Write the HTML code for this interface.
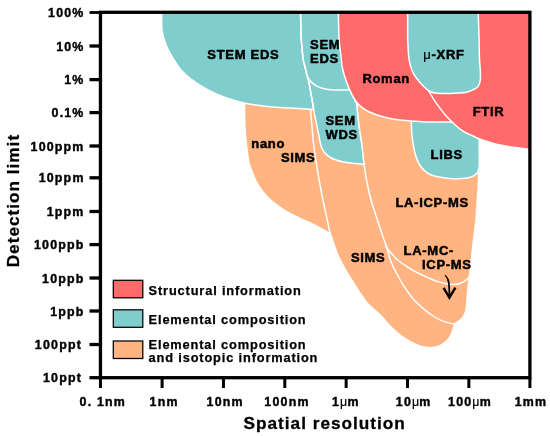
<!DOCTYPE html>
<html><head><meta charset="utf-8"><title>Detection limit vs spatial resolution</title>
<style>html,body{margin:0;padding:0;background:#fff;}svg{display:block}</style></head>
<body>
<svg width="550" height="436" viewBox="0 0 550 436">
<rect width="550" height="436" fill="#fff"/>
<g stroke="#fff" stroke-width="1.5" stroke-linejoin="round" fill="none">
<path fill="#ffb482" d="M244.5,103.6 C244.6,107.4 244.6,119.6 244.9,126.4 C245.2,133.2 245.7,138.4 246.4,144.5 C247.1,150.6 248.1,158.3 249.0,162.7 C249.9,167.1 250.6,167.7 251.8,170.9 C253.0,174.1 254.4,178.2 256.4,181.8 C258.4,185.4 260.9,189.4 263.6,192.7 C266.3,196.0 269.1,198.8 272.7,201.8 C276.3,204.8 280.9,208.1 285.5,210.9 C290.1,213.7 295.5,216.2 300.0,218.4 C304.5,220.6 309.1,222.3 312.7,224.1 C316.3,225.9 318.7,227.3 321.8,229.0 C324.9,230.7 329.9,233.6 331.5,234.5 L322.0,100.0 Z"/>
<path fill="#ffb482" d="M310.0,100.0 C310.1,101.5 310.4,105.7 310.6,109.0 C310.8,112.3 311.1,116.5 311.4,120.0 C311.7,123.5 312.0,126.7 312.3,130.0 C312.6,133.3 312.7,136.3 313.1,140.0 C313.5,143.7 314.0,147.8 314.6,152.0 C315.2,156.2 315.8,160.2 316.6,165.0 C317.4,169.8 318.3,175.5 319.3,181.0 C320.3,186.5 321.2,191.8 322.5,198.0 C323.8,204.2 325.6,212.4 326.9,218.2 C328.1,224.0 329.1,229.1 330.0,232.7 C330.9,236.2 331.1,235.9 332.3,239.5 C333.6,243.1 335.7,249.8 337.5,254.1 C339.3,258.4 340.8,261.1 342.9,265.0 C345.0,268.9 347.5,273.1 350.3,277.7 C353.1,282.2 356.6,287.9 359.6,292.3 C362.6,296.7 364.8,300.3 368.2,304.0 C371.6,307.7 376.5,311.2 380.0,314.7 C383.5,318.2 386.1,322.0 389.1,325.1 C392.1,328.2 395.2,331.0 398.2,333.5 C401.2,336.0 404.3,338.1 407.3,340.0 C410.3,341.9 413.4,343.4 416.4,344.6 C419.4,345.8 422.5,346.9 425.5,347.3 C428.5,347.8 431.8,347.8 434.5,347.3 C437.2,346.9 439.6,345.8 441.8,344.6 C444.0,343.4 445.9,341.7 447.5,340.0 C449.1,338.3 450.1,336.5 451.2,334.3 C452.2,332.1 453.2,328.7 453.8,327.0 C454.4,325.3 454.5,324.4 454.6,323.9 L454.6,323.9 C455.7,323.1 459.5,321.0 461.2,319.3 C462.9,317.6 464.0,315.9 464.9,313.8 C465.8,311.7 466.0,308.9 466.4,306.5 C466.8,304.1 466.8,302.0 467.0,299.3 C467.2,296.6 467.5,293.3 467.8,290.2 C468.1,287.1 468.6,282.8 468.9,280.5 C469.2,278.2 469.3,277.0 469.4,276.3 L469.4,276.3 C469.5,275.6 469.5,276.9 470.1,271.8 C470.7,266.8 471.9,254.5 472.8,246.0 C473.8,237.5 475.0,229.5 475.8,221.0 C476.6,212.5 477.2,201.8 477.6,195.0 C478.1,188.2 478.3,190.8 478.5,180.0 C478.7,169.2 478.7,138.3 478.7,130.0 L478.0,100.0 Z"/>
<path fill="#ffb482" d="M352.0,80.0 C352.4,83.2 353.8,95.7 354.5,99.5 C355.2,103.3 355.8,99.7 356.4,103.0 C357.0,106.3 357.7,114.8 358.2,119.5 C358.7,124.2 359.0,126.8 359.6,131.0 C360.2,135.2 361.1,139.4 361.8,145.0 C362.5,150.6 363.2,158.6 364.0,164.3 C364.8,170.1 365.2,173.4 366.4,179.5 C367.6,185.6 369.2,193.4 371.3,201.0 C373.4,208.6 377.2,219.2 379.1,225.0 C381.0,230.8 381.5,232.3 382.7,235.9 C383.9,239.5 385.0,242.6 386.4,246.8 C387.8,251.1 389.2,257.0 390.9,261.4 C392.6,265.8 394.3,269.0 396.4,273.0 C398.5,277.0 400.9,281.4 403.6,285.6 C406.3,289.8 409.7,294.7 412.7,298.3 C415.7,301.9 418.8,304.7 421.8,307.4 C424.8,310.1 427.9,312.4 430.9,314.5 C433.9,316.6 437.0,318.5 440.0,319.9 C443.0,321.3 446.7,322.4 449.1,323.1 C451.5,323.8 453.7,323.8 454.6,323.9 L454.6,323.9 C455.7,323.1 459.5,321.0 461.2,319.3 C462.9,317.6 464.0,315.9 464.9,313.8 C465.8,311.7 466.0,308.9 466.4,306.5 C466.8,304.1 466.8,302.0 467.0,299.3 C467.2,296.6 467.5,293.3 467.8,290.2 C468.1,287.1 468.6,282.8 468.9,280.5 C469.2,278.2 469.3,277.0 469.4,276.3 L469.4,276.3 C469.5,275.6 469.5,276.9 470.1,271.8 C470.7,266.8 471.9,254.5 472.8,246.0 C473.8,237.5 475.0,229.5 475.8,221.0 C476.6,212.5 477.2,201.8 477.6,195.0 C478.1,188.2 478.3,190.8 478.5,180.0 C478.7,169.2 478.7,138.3 478.7,130.0 L478.0,80.0 Z"/>
<path d="M385.6,245.2 C386.0,246.0 387.0,248.2 388.2,249.8 C389.4,251.4 391.1,253.2 392.8,255.0 C394.5,256.8 395.9,258.5 398.3,260.5 C400.8,262.5 404.4,264.9 407.5,266.9 C410.6,268.9 412.9,270.4 416.7,272.4 C420.4,274.3 426.4,277.1 430.0,278.6 C433.6,280.1 435.0,280.7 438.2,281.6 C441.4,282.5 445.8,283.8 449.1,284.2 C452.4,284.6 455.4,284.6 458.2,284.0 C461.0,283.4 463.9,281.7 465.8,280.4 C467.7,279.1 468.8,277.0 469.4,276.3 "/>
<path fill="#80cdcd" d="M161.7,12.0 C161.7,14.7 161.5,24.0 161.8,28.0 C162.1,32.0 162.6,33.5 163.3,36.2 C164.0,38.9 164.9,41.8 165.8,44.3 C166.8,46.8 167.6,48.8 169.0,51.4 C170.4,54.0 172.1,57.0 174.2,60.1 C176.2,63.2 178.2,66.8 181.3,70.2 C184.4,73.6 188.3,77.1 192.6,80.3 C196.9,83.5 201.7,86.5 207.0,89.3 C212.3,92.1 218.6,95.1 224.5,97.3 C230.4,99.5 235.1,101.1 242.7,102.7 C250.3,104.3 262.1,105.9 270.0,106.8 C277.9,107.7 282.9,107.5 290.0,107.9 C297.1,108.3 308.9,109.2 312.7,109.4 L318.0,109.4 L318.0,12.0 Z"/>
<path fill="#80cdcd" d="M306.7,74.1 C307.1,75.6 308.4,80.2 309.1,83.2 C309.8,86.2 310.2,89.5 310.7,92.3 C311.2,95.1 311.6,97.2 312.1,100.0 C312.6,102.8 313.1,106.0 313.6,109.0 C314.1,112.0 314.7,115.1 315.3,118.0 C315.9,120.9 316.4,123.7 317.0,126.4 C317.6,129.1 318.1,131.6 318.6,134.0 C319.1,136.4 319.4,138.8 319.9,141.0 C320.4,143.2 320.8,145.5 321.6,147.5 C322.4,149.5 323.5,151.2 324.8,152.8 C326.1,154.4 327.6,155.8 329.5,157.0 C331.4,158.2 333.6,159.2 336.0,160.0 C338.4,160.8 340.5,161.4 343.6,162.0 C346.7,162.6 351.1,163.2 354.5,163.6 C357.9,164.0 362.4,164.2 364.0,164.3 L364.0,164.3 C363.6,161.1 362.5,150.6 361.8,145.0 C361.1,139.4 360.2,135.2 359.6,131.0 C359.0,126.8 358.7,124.2 358.2,119.5 C357.7,114.8 357.0,106.3 356.4,103.0 C355.8,99.7 355.2,103.3 354.5,99.5 C353.8,95.7 352.4,83.2 352.0,80.0 Z"/>
<path fill="#80cdcd" d="M300.5,12.0 C300.6,14.2 300.7,20.1 300.8,25.0 C300.9,29.9 301.0,35.6 301.4,41.4 C301.8,47.1 302.7,55.6 303.2,59.5 C303.7,63.4 303.8,62.3 304.5,65.0 C305.2,67.7 306.2,73.1 307.3,75.9 C308.4,78.7 309.2,79.8 310.9,81.6 C312.6,83.3 314.7,85.1 317.3,86.4 C319.9,87.7 323.1,88.6 326.4,89.2 C329.7,89.8 333.5,89.9 337.3,90.0 C341.1,90.1 346.3,89.9 349.1,89.8 C351.9,89.7 353.2,89.6 354.0,89.6 L354.0,12.0 Z"/>
<path d="M300.5,12.0 C300.6,14.2 300.7,20.1 300.8,25.0 C300.9,29.9 301.0,35.6 301.4,41.4 C301.8,47.1 302.7,55.6 303.2,59.5 C303.7,63.4 303.9,62.6 304.5,65.0 C305.1,67.4 305.9,71.1 306.7,74.1 C307.5,77.1 308.4,80.2 309.1,83.2 C309.8,86.2 310.2,89.5 310.7,92.3 C311.2,95.1 311.6,97.2 312.1,100.0 C312.6,102.8 313.4,107.5 313.6,109.0 "/>
<path fill="#80cdcd" d="M411.3,115.0 C411.3,116.2 411.2,118.9 411.3,121.9 C411.4,124.9 411.5,129.5 411.8,133.2 C412.1,136.9 412.5,140.5 413.1,144.1 C413.7,147.7 414.4,151.4 415.5,155.0 C416.6,158.6 418.0,162.5 420.0,165.5 C422.0,168.5 424.6,171.1 427.3,172.9 C430.0,174.8 432.8,175.7 436.4,176.6 C440.0,177.5 444.9,178.1 449.1,178.4 C453.3,178.7 458.1,178.8 461.8,178.6 C465.5,178.4 468.7,177.9 471.2,177.0 C473.7,176.1 475.7,174.9 477.0,173.2 C478.3,171.4 478.8,170.4 479.2,166.5 C479.6,162.6 479.2,158.6 479.2,150.0 C479.2,141.4 479.2,120.8 479.2,115.0 Z"/>
<path fill="#ff6b6b" d="M338.3,12.0 C338.4,14.2 338.5,20.1 338.6,25.0 C338.8,29.9 338.7,35.6 339.2,41.4 C339.7,47.1 341.0,55.6 341.4,59.5 C341.8,63.4 341.3,62.3 341.8,65.0 C342.3,67.7 343.3,72.0 344.5,75.9 C345.7,79.8 347.6,85.0 349.1,88.6 C350.6,92.2 352.1,95.1 353.6,97.7 C355.1,100.3 356.1,102.0 358.2,104.1 C360.3,106.2 363.2,108.7 366.4,110.5 C369.6,112.3 373.4,113.7 377.3,115.0 C381.2,116.3 386.2,117.8 390.0,118.6 C393.8,119.4 396.4,119.7 400.0,120.1 C403.6,120.5 407.2,120.6 411.8,120.9 C416.4,121.2 421.1,121.7 427.3,121.9 C433.5,122.1 443.2,121.9 449.0,121.9 C454.8,121.9 459.8,121.9 462.0,121.9 L462.0,12.0 Z"/>
<path fill="#ff6b6b" d="M416.0,12.0 L416.0,40.0 C416.5,43.3 417.7,53.3 419.0,60.0 C420.3,66.7 422.2,74.5 424.0,80.0 C425.8,85.5 427.9,89.1 430.0,93.0 C432.1,96.9 433.8,99.7 436.4,103.4 C439.0,107.1 442.5,111.7 445.5,115.2 C448.5,118.7 451.5,121.5 454.5,124.2 C457.5,126.9 460.6,129.6 463.6,131.5 C466.6,133.4 470.2,134.6 472.7,135.8 C475.2,137.0 475.5,137.3 478.5,138.5 C481.5,139.7 487.3,141.6 490.9,142.7 C494.5,143.8 496.2,144.2 500.0,145.0 C503.8,145.8 508.9,146.6 513.6,147.3 C518.3,148.0 525.5,148.8 528.2,149.2 C530.9,149.5 529.6,149.4 529.9,149.4 L529.7,12.0 Z"/>
<path fill="#80cdcd" d="M407.6,12.0 C407.6,14.2 407.7,20.1 407.7,25.0 C407.7,29.9 407.6,35.6 407.8,41.4 C408.0,47.1 408.4,54.7 409.1,59.5 C409.8,64.3 410.7,67.0 411.8,70.0 C412.9,73.0 413.9,74.6 416.0,77.5 C418.1,80.4 422.2,85.0 424.5,87.3 C426.8,89.6 427.9,90.5 430.0,91.5 C432.1,92.5 434.4,93.0 437.0,93.3 C439.6,93.6 442.0,93.6 445.5,93.6 C449.0,93.5 454.5,93.2 458.0,93.0 C461.5,92.8 463.8,92.9 466.4,92.3 C469.0,91.7 471.6,90.5 473.6,89.5 C475.6,88.5 477.1,88.0 478.2,86.4 C479.3,84.8 479.9,82.7 480.3,80.0 C480.7,77.3 480.4,73.4 480.3,70.0 C480.2,66.6 479.7,64.3 479.5,59.5 C479.3,54.7 479.3,48.9 479.1,41.0 C478.9,33.1 478.4,16.8 478.2,12.0 Z"/>
</g>
<g stroke="#000" stroke-width="3.3" fill="none" stroke-linecap="butt">
<line stroke-width="2.8" x1="89.5" x2="100.45" y1="12.50" y2="12.50"/>
<line x1="89.5" x2="100.45" y1="46.00" y2="46.00"/>
<line x1="89.5" x2="100.45" y1="79.60" y2="79.60"/>
<line x1="89.5" x2="100.45" y1="112.60" y2="112.60"/>
<line x1="89.5" x2="100.45" y1="146.00" y2="146.00"/>
<line x1="89.5" x2="100.45" y1="177.80" y2="177.80"/>
<line x1="89.5" x2="100.45" y1="211.50" y2="211.50"/>
<line x1="89.5" x2="100.45" y1="244.60" y2="244.60"/>
<line x1="89.5" x2="100.45" y1="278.00" y2="278.00"/>
<line x1="89.5" x2="100.45" y1="311.00" y2="311.00"/>
<line x1="89.5" x2="100.45" y1="344.50" y2="344.50"/>
<line x1="89.5" x2="100.45" y1="377.70" y2="377.70"/>
<line stroke-width="3" y1="388" y2="377.7" x1="100.45" x2="100.45"/>
<line stroke-width="3" y1="388" y2="377.7" x1="162.10" x2="162.10"/>
<line stroke-width="3" y1="388" y2="377.7" x1="223.45" x2="223.45"/>
<line stroke-width="3" y1="388" y2="377.7" x1="284.80" x2="284.80"/>
<line stroke-width="3" y1="388" y2="377.7" x1="346.15" x2="346.15"/>
<line stroke-width="3" y1="388" y2="377.7" x1="407.50" x2="407.50"/>
<line stroke-width="3" y1="388" y2="377.7" x1="468.85" x2="468.85"/>
<line stroke-width="3" y1="388" y2="377.7" x1="529.90" x2="529.90"/>
<rect stroke-width="3.3" x="100.45" y="12.3" width="429.45" height="365.40"/>
</g>
<g font-family="Liberation Sans, Arial, sans-serif" font-weight="bold" font-size="12.4" fill="#000" stroke="#000" stroke-width="0.4" stroke-linejoin="round" letter-spacing="1.2">
<text x="84.6" y="17.00" text-anchor="end">100%</text>
<text x="84.6" y="50.50" text-anchor="end">10%</text>
<text x="84.6" y="84.10" text-anchor="end">1%</text>
<text x="84.6" y="117.10" text-anchor="end">0.1%</text>
<text x="84.6" y="150.50" text-anchor="end">100ppm</text>
<text x="84.6" y="182.30" text-anchor="end">10ppm</text>
<text x="84.6" y="216.00" text-anchor="end">1ppm</text>
<text x="84.6" y="249.10" text-anchor="end">100ppb</text>
<text x="84.6" y="282.50" text-anchor="end">10ppb</text>
<text x="84.6" y="315.50" text-anchor="end">1ppb</text>
<text x="82.0" y="349.00" text-anchor="end">100ppt</text>
<text x="82.0" y="382.20" text-anchor="end">10ppt</text>
<text x="102.80" y="405.5" text-anchor="middle">0. 1nm</text>
<text x="164.10" y="405.5" text-anchor="middle">1nm</text>
<text x="225.20" y="405.5" text-anchor="middle">10nm</text>
<text x="287.00" y="405.5" text-anchor="middle">100nm</text>
<text x="345.80" y="405.5" text-anchor="middle">1<tspan font-weight="normal" stroke-width="0.2" letter-spacing="0.2">μ</tspan>m</text>
<text x="413.70" y="405.5" text-anchor="middle">10<tspan font-weight="normal" stroke-width="0.2" letter-spacing="0.2">μ</tspan>m</text>
<text x="470.00" y="405.5" text-anchor="middle">100<tspan font-weight="normal" stroke-width="0.2" letter-spacing="0.2">μ</tspan>m</text>
<text x="531.00" y="405.5" text-anchor="middle">1mm</text>
</g>
<g font-family="Liberation Sans, Arial, sans-serif" font-weight="bold" font-size="17.2" fill="#000" stroke="#000" stroke-width="0.3" stroke-linejoin="round" letter-spacing="0.9">
<text x="243.6" y="428.5" letter-spacing="1">Spatial resolution</text>
<text transform="translate(18.9,267.3) rotate(-90)" letter-spacing="1">Detection limit</text>
</g>
<g font-family="Liberation Sans, Arial, sans-serif" font-weight="bold" font-size="13" fill="#000" stroke="#000" stroke-width="0.5" stroke-linejoin="round" letter-spacing="0.7">
<text x="207.3" y="58.8">STEM EDS</text>
<text x="310.1" y="48.8">SEM</text>
<text x="310.1" y="63.0">EDS</text>
<text x="362.4" y="83.2">Roman</text>
<text x="423.3" y="59.1"><tspan font-weight="normal" stroke-width="0.2">μ</tspan>-XRF</text>
<text x="472.7" y="116.0">FTIR</text>
<text x="325.5" y="125.1">SEM</text>
<text x="325.5" y="139.3">WDS</text>
<text x="251.3" y="147.5">nano</text>
<text x="280.9" y="162.0">SIMS</text>
<text x="430.5" y="159.1">LIBS</text>
<text x="395.4" y="206.9">LA-ICP-MS</text>
<text x="350.9" y="261.5">SIMS</text>
<text x="403.6" y="255.0">LA-MC-</text>
<text x="422" y="269">ICP-MS</text>
</g>
<g stroke="#000" stroke-width="1.5" fill="none" stroke-linecap="round" stroke-linejoin="miter">
<path stroke-width="1.1" d="M445.4,275.5 C447,277 448,279 448.6,281.5"/>
<path stroke-width="1.7" stroke-linecap="butt" d="M448.1,279.5 C449.2,283.5 449.4,288 449.4,296.5"/>
<path stroke-width="2.4" stroke-linecap="butt" d="M443.6,287.9 L449.4,297.6 L455.4,287.7"/>
</g>
<g stroke="#000" stroke-width="1.25">
<rect x="113.3" y="280.3" width="29.5" height="17.5" fill="#ff6b6b"/>
<rect x="113.3" y="309.8" width="29.5" height="17.5" fill="#80cdcd"/>
<rect x="113.3" y="341" width="29.5" height="17.5" fill="#ffb482"/>
</g>
<g font-family="Liberation Sans, Arial, sans-serif" font-weight="bold" font-size="12.8" fill="#000" stroke="#000" stroke-width="0.25" stroke-linejoin="round" letter-spacing="0.85">
<text x="148.6" y="294.7">Structural information</text>
<text x="148.6" y="323.6">Elemental composition</text>
<text x="148.6" y="348.8">Elemental composition</text>
<text x="148.6" y="362">and isotopic information</text>
</g>
</svg>
</body></html>
